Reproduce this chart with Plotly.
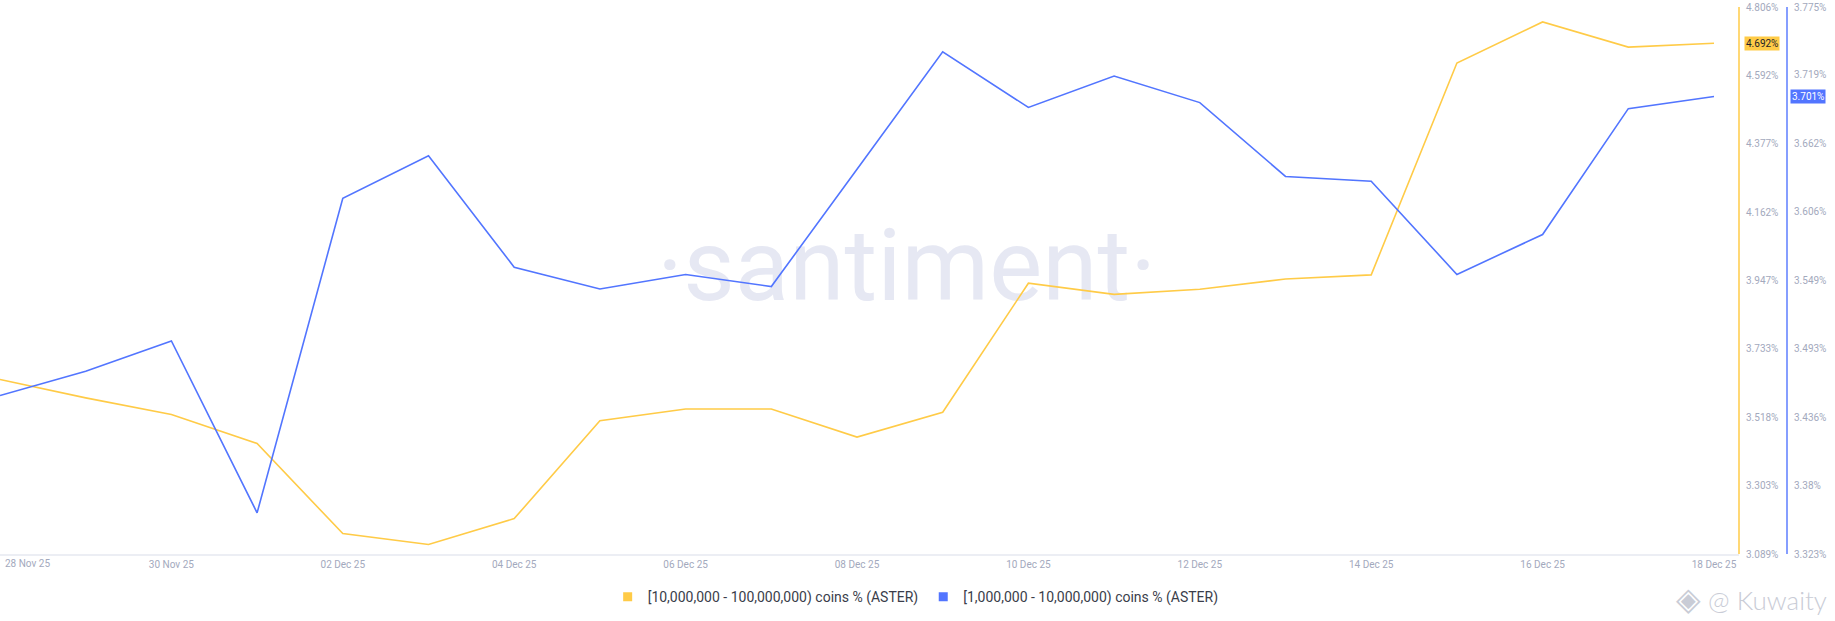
import pandas as pd
import plotly.graph_objects as go

# ---------------- data ----------------
dates = pd.date_range("2025-11-28", "2025-12-18", freq="D")
holders_10m_100m = [3.637, 3.579, 3.527, 3.436, 3.153, 3.119, 3.200, 3.507, 3.544, 3.544,
                    3.456, 3.534, 3.939, 3.904, 3.920, 3.952, 3.965, 4.630, 4.759, 4.680, 4.692]
holders_1m_10m = [3.454, 3.474, 3.499, 3.357, 3.617, 3.652, 3.560, 3.542, 3.554, 3.544,
                  3.641, 3.738, 3.692, 3.718, 3.696, 3.635, 3.631, 3.554, 3.587, 3.691, 3.701]
name_yellow = "[10,000,000 - 100,000,000) coins % (ASTER)"
name_blue = "[1,000,000 - 10,000,000) coins % (ASTER)"
yellow_ticks = [4.806, 4.592, 4.377, 4.162, 3.947, 3.733, 3.518, 3.303, 3.089]
yellow_ticktext = ["4.806%", "4.592%", "4.377%", "4.162%", "3.947%", "3.733%", "3.518%", "3.303%", "3.089%"]
blue_ticks = [3.775, 3.719, 3.662, 3.606, 3.549, 3.493, 3.436, 3.38, 3.323]
blue_ticktext = ["3.775%", "3.719%", "3.662%", "3.606%", "3.549%", "3.493%", "3.436%", "3.38%", "3.323%"]
x_tick_dates = pd.date_range("2025-11-30", "2025-12-18", freq="2D")

# ---------------- style ----------------
YELLOW = "#FFCB47"
BLUE = "#5275FF"
TICK_COL = "#a3a9bd"
W, H = 1835, 621
plot_right = 1739 / W
blue_axis_pos = 1787 / W

y_rng = [min(yellow_ticks) - 1e-6, max(yellow_ticks) + 1e-6]
b_rng = [min(blue_ticks) - 1e-6, max(blue_ticks) + 1e-6]
x_end = dates[-1] + pd.Timedelta(hours=7)

fig = go.Figure()

# watermark (drawn under the lines)
wm_x = dates[0] + pd.Timedelta(hours=10.58 * 24)
wm_y = y_rng[0] + 0.51 * (y_rng[1] - y_rng[0])
fig.add_trace(go.Scatter(
    x=[wm_x], y=[wm_y], mode="text", text=["·santiment·"],
    textfont=dict(family="Roboto", size=100, color="#e6e8f3", weight=400),
    showlegend=False, hoverinfo="skip", yaxis="y", cliponaxis=False))

fig.add_trace(go.Scatter(x=dates, y=holders_10m_100m, mode="lines",
                         line=dict(color=YELLOW, width=1.6), yaxis="y",
                         showlegend=False, name=name_yellow))
fig.add_trace(go.Scatter(x=dates, y=holders_1m_10m, mode="lines",
                         line=dict(color=BLUE, width=1.6), yaxis="y2",
                         showlegend=False, name=name_blue))
# legend entries with square markers
fig.add_trace(go.Scatter(x=[None], y=[None], mode="markers", name=name_yellow,
                         marker=dict(symbol="square", size=9, color=YELLOW)))
fig.add_trace(go.Scatter(x=[None], y=[None], mode="markers", name=name_blue,
                         marker=dict(symbol="square", size=9, color=BLUE)))

fig.update_layout(
    width=W, height=H,
    margin=dict(l=0, r=0, t=7, b=67, autoexpand=False),
    paper_bgcolor="white", plot_bgcolor="white",
    showlegend=True,
    legend=dict(orientation="h", x=0.499, xanchor="center", y=-0.079, yanchor="middle",
                font=dict(family="Roboto", size=14, color="#3a3d4a"),
                itemwidth=30, tracegroupgap=0),
    xaxis=dict(domain=[0, plot_right], range=[dates[0], x_end], showgrid=False,
               zeroline=False, showline=True, linecolor="#eceef4", linewidth=2,
               tickvals=list(x_tick_dates), tickformat="%d %b %y", ticks="",
               automargin=False,
               tickfont=dict(family="Roboto", size=10, color=TICK_COL)),
    yaxis=dict(range=y_rng, side="right", anchor="free", position=plot_right,
               showgrid=False, zeroline=False, showline=True, automargin=False,
               linecolor="rgba(255,203,71,0.75)", linewidth=2,
               tickvals=yellow_ticks, ticktext=yellow_ticktext, ticks="",
               ticklabelstandoff=4,
               tickfont=dict(family="Roboto", size=10, color=TICK_COL)),
    yaxis2=dict(range=b_rng, side="right", anchor="free", position=blue_axis_pos,
                overlaying="y", showgrid=False, zeroline=False, showline=True,
                automargin=False,
                linecolor="rgba(82,117,255,0.7)", linewidth=2,
                tickvals=blue_ticks, ticktext=blue_ticktext, ticks="",
                ticklabelstandoff=4,
                tickfont=dict(family="Roboto", size=10, color=TICK_COL)),
)

# first x label kept inside the canvas
fig.add_annotation(x=dates[0], xref="x", y=0, yref="paper", yshift=-9,
                   text=dates[0].strftime("%d %b %y"), showarrow=False,
                   xanchor="left", yanchor="middle", xshift=3,
                   font=dict(family="Roboto", size=10, color=TICK_COL))

# last value badges
fig.add_annotation(x=plot_right, xref="paper", y=holders_10m_100m[-1], yref="y",
                   text=f"{holders_10m_100m[-1]:.3f}%", showarrow=False,
                   xanchor="left", yanchor="middle", xshift=5,
                   bgcolor=YELLOW, borderpad=1,
                   font=dict(family="Roboto", size=10, color="#1e1e28"))
fig.add_annotation(x=blue_axis_pos, xref="paper", y=holders_1m_10m[-1], yref="y2",
                   text=f"{holders_1m_10m[-1]:.3f}%", showarrow=False,
                   xanchor="left", yanchor="middle", xshift=3,
                   bgcolor=BLUE, borderpad=1,
                   font=dict(family="Roboto", size=10, color="white"))

# corner mark
fig.add_annotation(x=1.0, xref="paper", y=-0.08, yref="paper", xanchor="right",
                   yanchor="middle", xshift=-6, showarrow=False,
                   text="<span style='font-size:32px'>◈</span> @ Kuwaity",
                   font=dict(family="Lato", size=26, color="#c9ccd6", weight=300))

fig.write_html("out.html", config={"displayModeBar": False},
               post_script="document.body.style.margin='0';document.body.style.overflow='hidden';")
